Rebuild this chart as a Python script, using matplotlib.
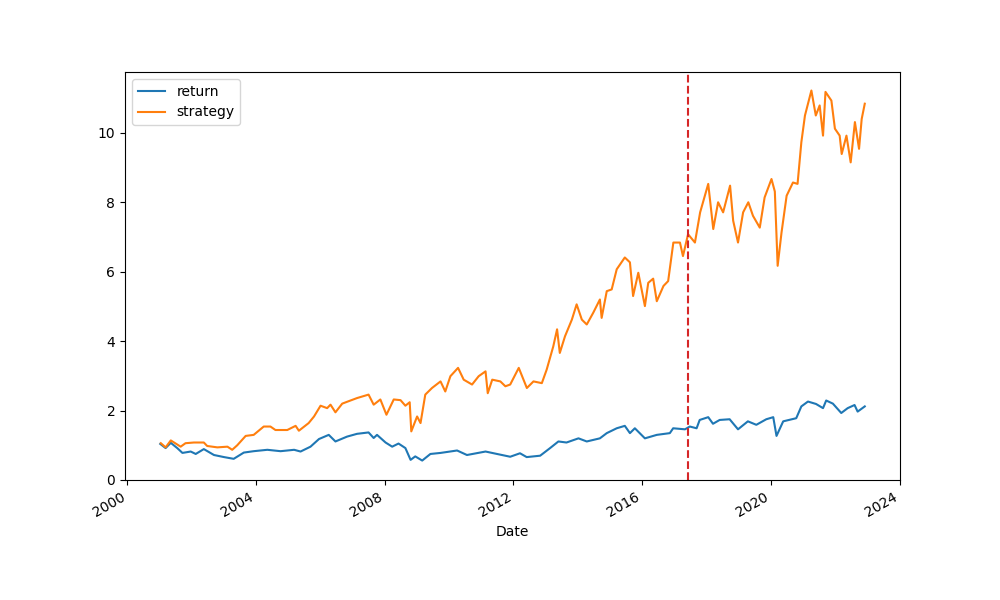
import matplotlib
matplotlib.use("Agg")
import matplotlib.pyplot as plt
import pandas as pd

# values (cumulative growth of 1)
ret_dates = [
    "2001-01-08", "2001-03-10", "2001-05-08", "2001-07-20", "2001-09-17", "2001-12-20",
    "2002-02-15", "2002-05-18", "2002-09-10", "2003-01-02", "2003-04-22", "2003-08-15",
    "2003-12-05", "2004-05-08", "2004-10-05", "2005-03-08", "2005-05-20", "2005-09-10",
    "2005-12-15", "2006-04-05", "2006-06-20", "2006-10-30", "2007-02-20", "2007-07-01",
    "2007-08-28", "2007-10-05", "2008-01-10", "2008-03-25", "2008-06-05", "2008-08-22",
    "2008-10-20", "2008-12-12", "2009-03-01", "2009-06-02", "2009-09-25", "2010-04-01",
    "2010-07-22", "2011-02-18", "2011-06-28", "2011-11-25", "2012-03-15", "2012-05-30",
    "2012-10-30", "2013-02-20", "2013-05-25", "2013-08-25", "2014-01-08", "2014-04-12",
    "2014-09-08", "2014-11-25", "2015-03-18", "2015-06-18", "2015-08-15", "2015-10-10",
    "2016-02-01", "2016-06-15", "2016-11-10", "2016-12-18", "2017-05-01", "2017-06-25",
    "2017-09-10", "2017-10-15", "2018-01-20", "2018-03-15", "2018-05-30", "2018-09-20",
    "2018-12-24", "2019-04-15", "2019-07-20", "2019-11-10", "2020-01-28", "2020-03-05",
    "2020-05-20", "2020-10-15", "2020-12-12", "2021-02-25", "2021-05-28", "2021-08-15",
    "2021-09-20", "2021-12-05", "2022-03-10", "2022-05-22", "2022-08-08", "2022-09-12",
    "2022-12-02",
]
ret_vals = [
    1.04, 0.92, 1.07, 0.92, 0.78, 0.82,
    0.75, 0.89, 0.72, 0.66, 0.61, 0.79,
    0.83, 0.87, 0.83, 0.87, 0.82, 0.96,
    1.18, 1.30, 1.11, 1.25, 1.33, 1.37,
    1.21, 1.30, 1.08, 0.96, 1.05, 0.92,
    0.58, 0.68, 0.56, 0.75, 0.78, 0.85,
    0.72, 0.82, 0.75, 0.67, 0.77, 0.66,
    0.70, 0.92, 1.11, 1.08, 1.20, 1.11,
    1.20, 1.35, 1.49, 1.56, 1.35, 1.49,
    1.20, 1.30, 1.35, 1.49, 1.46, 1.54,
    1.49, 1.73, 1.81, 1.62, 1.73, 1.75,
    1.46, 1.69, 1.59, 1.75, 1.81, 1.27,
    1.69, 1.78, 2.12, 2.26, 2.19, 2.07,
    2.29, 2.20, 1.93, 2.07, 2.16, 1.97,
    2.12,
]

strat_dates = [
    "2001-01-15", "2001-03-10", "2001-05-08", "2001-08-28", "2001-10-22", "2002-01-25",
    "2002-05-18", "2002-06-25", "2002-10-18", "2003-02-10", "2003-04-05", "2003-06-01",
    "2003-09-05", "2003-12-05", "2004-03-28", "2004-06-12", "2004-08-08", "2004-12-20",
    "2005-03-25", "2005-05-01", "2005-08-20", "2005-10-20", "2006-01-02", "2006-03-18",
    "2006-04-25", "2006-06-20", "2006-09-05", "2006-12-08", "2007-02-20", "2007-07-01",
    "2007-08-28", "2007-11-12", "2008-01-20", "2008-04-12", "2008-06-28", "2008-08-22",
    "2008-10-10", "2008-10-28", "2009-01-02", "2009-02-10", "2009-04-05", "2009-06-20",
    "2009-09-25", "2009-11-18", "2010-01-15", "2010-04-12", "2010-06-15", "2010-09-18",
    "2010-12-02", "2011-02-18", "2011-03-15", "2011-05-05", "2011-08-05", "2011-10-01",
    "2011-11-25", "2012-03-01", "2012-06-01", "2012-08-15", "2012-11-18", "2013-01-12",
    "2013-03-28", "2013-05-10", "2013-06-10", "2013-08-08", "2013-10-25", "2013-12-18",
    "2014-02-15", "2014-04-12", "2014-06-25", "2014-09-08", "2014-09-28", "2014-11-25",
    "2015-01-20", "2015-03-18", "2015-06-18", "2015-08-15", "2015-09-20", "2015-11-18",
    "2016-02-01", "2016-03-10", "2016-05-05", "2016-06-15", "2016-08-30", "2016-10-22",
    "2016-12-20", "2017-03-05", "2017-04-08", "2017-06-05", "2017-08-22", "2017-10-20",
    "2018-01-20", "2018-03-18", "2018-05-12", "2018-07-08", "2018-09-25", "2018-10-30",
    "2018-12-24", "2019-02-20", "2019-04-20", "2019-06-12", "2019-08-28", "2019-10-22",
    "2020-01-08", "2020-02-15", "2020-03-18", "2020-05-01", "2020-06-28", "2020-09-08",
    "2020-10-30", "2020-12-12", "2021-01-22", "2021-04-05", "2021-05-25", "2021-07-08",
    "2021-08-15", "2021-09-12", "2021-11-18", "2021-12-28", "2022-02-20", "2022-03-15",
    "2022-05-08", "2022-06-25", "2022-08-12", "2022-09-28", "2022-10-28", "2022-12-02",
]
strat_vals = [
    1.06, 0.94, 1.14, 0.96, 1.06, 1.08,
    1.08, 0.98, 0.94, 0.96, 0.87, 1.00,
    1.27, 1.30, 1.54, 1.54, 1.44, 1.44,
    1.56, 1.42, 1.64, 1.83, 2.14, 2.07,
    2.17, 1.95, 2.20, 2.29, 2.36, 2.46,
    2.17, 2.32, 1.88, 2.32, 2.30, 2.14,
    2.24, 1.40, 1.83, 1.64, 2.46, 2.65,
    2.84, 2.55, 2.99, 3.23, 2.89, 2.75,
    2.99, 3.13, 2.50, 2.89, 2.84, 2.70,
    2.75, 3.23, 2.65, 2.84, 2.79, 3.18,
    3.85, 4.34, 3.66, 4.14, 4.62, 5.06,
    4.62, 4.48, 4.82, 5.20, 4.67, 5.44,
    5.49, 6.07, 6.41, 6.27, 5.30, 5.97,
    5.01, 5.68, 5.80, 5.15, 5.59, 5.73,
    6.84, 6.84, 6.45, 7.08, 6.84, 7.71,
    8.53, 7.23, 8.00, 7.71, 8.48, 7.47,
    6.84, 7.71, 8.00, 7.61, 7.27, 8.14,
    8.67, 8.31, 6.17, 7.13, 8.19, 8.57,
    8.53, 9.73, 10.50, 11.22, 10.50, 10.79,
    9.92, 11.18, 10.93, 10.12, 9.92, 9.39,
    9.92, 9.15, 10.31, 9.54, 10.40, 10.84,
]

split_date = "2017-05-30"

fig, ax = plt.subplots(figsize=(10, 6))
ax.plot(pd.to_datetime(ret_dates), ret_vals, label="return")
ax.plot(pd.to_datetime(strat_dates), strat_vals, label="strategy")
ax.axvline(pd.Timestamp(split_date), color="tab:red", linestyle="--")
ax.set_ylim(bottom=0)
ax.set_xlabel("Date")
ax.legend(loc="upper left")
fig.autofmt_xdate()
plt.savefig("out.png", dpi=100)
